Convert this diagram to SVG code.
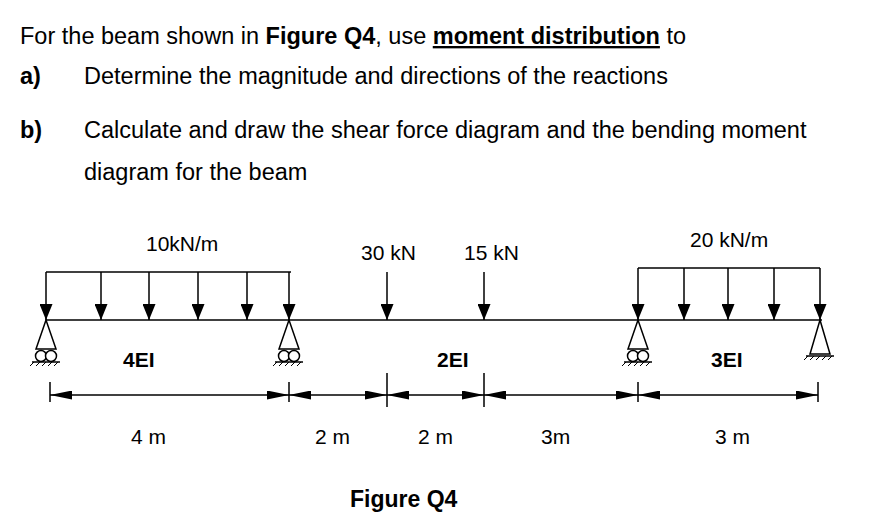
<svg xmlns="http://www.w3.org/2000/svg" width="880" height="527" viewBox="0 0 880 527">
<defs>
<marker id="ah" viewBox="0 0 10 10" refX="10" refY="5" markerWidth="16" markerHeight="13" orient="auto" markerUnits="userSpaceOnUse" preserveAspectRatio="none"><path d="M0,0 L10,5 L0,10 z" fill="#000"/></marker>
<marker id="dh" viewBox="0 0 10 10" refX="10" refY="5" markerWidth="22" markerHeight="9" orient="auto-start-reverse" markerUnits="userSpaceOnUse" preserveAspectRatio="none"><path d="M0,0 L10,5 L0,10 z" fill="#000"/></marker>
<g id="pin"><path d="M0,0 L-10,29 L10,29 Z" fill="#fff" stroke="#000" stroke-width="1.5"/></g>
<g id="roll"><circle cx="-5" cy="36" r="5.5" fill="#fff" stroke="#000" stroke-width="1.5"/><circle cx="5" cy="36" r="5.5" fill="#fff" stroke="#000" stroke-width="1.5"/><line x1="-14" y1="42" x2="14" y2="42" stroke="#000" stroke-width="1.5"/><path d="M-12,42 l-4,4 M-6,42 l-4,4 M0,42 l-4,4 M6,42 l-4,4 M12,42 l-4,4" stroke="#000" stroke-width="1"/></g>
</defs>
<style>
text{font-family:"Liberation Sans",Arial,sans-serif;fill:#000}
.t{font-size:23.5px}
.l{font-size:21px}
.b{font-weight:bold}
.ln{stroke:#000;stroke-width:1.5;fill:none}
.ar{stroke:#000;stroke-width:1.5;marker-end:url(#ah)}
.dm{stroke:#000;stroke-width:1.3;marker-start:url(#dh);marker-end:url(#dh)}
</style>
<g id="question">
<text class="t" x="20" y="44">For the beam shown in <tspan class="b">Figure Q4</tspan>, use <tspan class="b" text-decoration="underline">moment distribution</tspan> to</text>
<text class="t b" x="20" y="84">a)</text>
<text class="t" x="84" y="84">Determine the magnitude and directions of the reactions</text>
<text class="t b" x="20" y="138">b)</text>
<text class="t" x="84" y="138">Calculate and draw the shear force diagram and the bending moment</text>
<text class="t" x="84" y="180">diagram for the beam</text>
</g>
<g id="beam"><line class="ln" x1="46" y1="320" x2="822" y2="320"/></g>
<g id="supportA"><use href="#pin" x="46" y="320"/><use href="#roll" x="46" y="320"/></g>
<g id="supportB"><use href="#pin" x="289" y="320"/><use href="#roll" x="289" y="320"/></g>
<g id="supportC"><use href="#pin" x="638" y="320"/><use href="#roll" x="638" y="320"/></g>
<g id="supportD"><path d="M820,320 L810,354 L830,354 Z" fill="#fff" stroke="#000" stroke-width="1.5"/><line class="ln" x1="806" y1="356" x2="834" y2="356"/><path d="M808,356 l-4,4 M814,356 l-4,4 M820,356 l-4,4 M826,356 l-4,4 M832,356 l-4,4" stroke="#000" stroke-width="1"/></g>
<g id="connectors">
<line class="ln" x1="46" y1="272" x2="291" y2="272"/>
<line class="ar" x1="46" y1="272" x2="46" y2="320"/>
<line class="ar" x1="101" y1="272" x2="101" y2="320"/>
<line class="ar" x1="149" y1="272" x2="149" y2="320"/>
<line class="ar" x1="198" y1="272" x2="198" y2="320"/>
<line class="ar" x1="247" y1="272" x2="247" y2="320"/>
<line class="ar" x1="289" y1="272" x2="289" y2="320"/>
<line class="ar" x1="387" y1="272" x2="387" y2="320"/>
<line class="ar" x1="484" y1="272" x2="484" y2="320"/>
<line class="ln" x1="638" y1="268" x2="820" y2="268"/>
<line class="ar" x1="638" y1="268" x2="638" y2="320"/>
<line class="ar" x1="684" y1="268" x2="684" y2="320"/>
<line class="ar" x1="728" y1="268" x2="728" y2="320"/>
<line class="ar" x1="774" y1="268" x2="774" y2="320"/>
<line class="ar" x1="820" y1="268" x2="820" y2="320"/>
</g>
<g id="dimensions">
<path class="ln" d="M50,382 V402 M289,382 V402 M387,373 V407 M484,373 V407 M638,382 V402 M818,382 V402" stroke-width="1.3"/>
<line class="dm" x1="50" y1="395" x2="289" y2="395"/>
<line class="dm" x1="289" y1="395" x2="387" y2="395"/>
<line class="dm" x1="387" y1="395" x2="484" y2="395"/>
<line class="dm" x1="484" y1="395" x2="638" y2="395"/>
<line class="dm" x1="638" y1="395" x2="818" y2="395"/>
</g>
<g id="labels">
<text class="l" x="146" y="251">10kN/m</text>
<text class="l" x="361" y="260">30 kN</text>
<text class="l" x="464" y="260">15 kN</text>
<text class="l" x="690" y="247">20 kN/m</text>
<text class="l b" x="123" y="367">4EI</text>
<text class="l b" x="437" y="367">2EI</text>
<text class="l b" x="711" y="367">3EI</text>
<text class="l" x="131" y="444">4 m</text>
<text class="l" x="315" y="444">2 m</text>
<text class="l" x="418" y="444">2 m</text>
<text class="l" x="541" y="444">3m</text>
<text class="l" x="715" y="444">3 m</text>
<text class="l b" x="350" y="507" style="font-size:23px">Figure Q4</text>
</g>
</svg>
